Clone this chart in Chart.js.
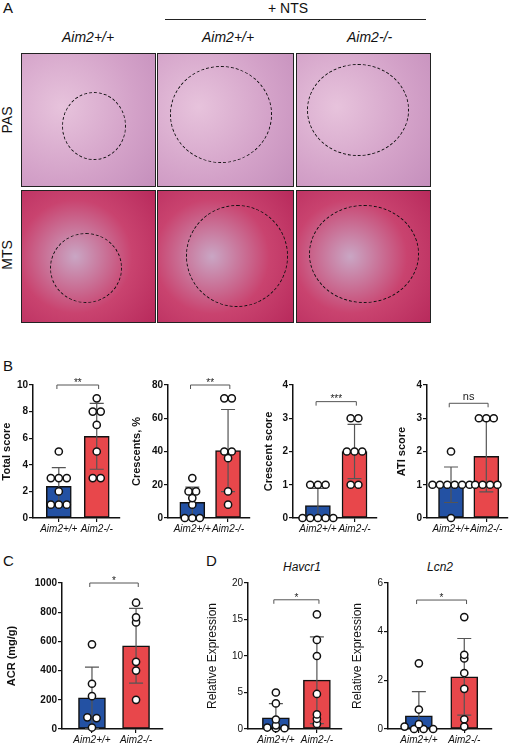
<!DOCTYPE html>
<html>
<head>
<meta charset="utf-8">
<script src="https://cdn.jsdelivr.net/npm/chart.js@4"></script>
<style>
  body { margin: 0; background: #fff; font-family: "Liberation Sans", Arial, sans-serif; }
  #page { position: relative; width: 520px; height: 749px; overflow: hidden; }
  .lbl { position: absolute; color: #111; white-space: nowrap; }
  .pic { position: absolute; border: 1.5px solid #222; box-sizing: border-box; overflow: hidden; }
  .pas { background: radial-gradient(circle at 30% 40%, #e7c3dc, #d3a1c8 60%, #c58fbc); }
  .mts { background: radial-gradient(circle at 40% 50%, #c9a6c4, #c9436f 55%, #b82a5c); }
  .glom { position: absolute; border: 1.5px dashed #111; border-radius: 50%; }
  .bar { position: absolute; height: 1px; background: #222; }
  canvas { position: absolute; }
</style>
</head>
<body>
<div id="page">
  <div class="lbl" style="left:3px;top:-1px;font-size:15px">A</div>
  <div class="lbl" style="left:268px;top:0px;font-size:14px">+ NTS</div>
  <div class="bar" style="left:165px;top:19px;width:261px"></div>
  <div class="lbl" style="left:62px;top:29px;font-size:14px;font-style:italic">Aim2+/+</div>
  <div class="lbl" style="left:202px;top:29px;font-size:14px;font-style:italic">Aim2+/+</div>
  <div class="lbl" style="left:347px;top:29px;font-size:14px;font-style:italic">Aim2-/-</div>
  <div class="lbl" style="left:-6px;top:112px;font-size:14px;transform:rotate(-90deg)">PAS</div>
  <div class="lbl" style="left:-8px;top:247px;font-size:14px;transform:rotate(-90deg)">MTS</div>

  <div class="pic pas" style="left:21px;top:53px;width:135px;height:134px"><div class="glom" style="left:40px;top:38px;width:62px;height:66px"></div></div>
  <div class="pic pas" style="left:157px;top:53px;width:137px;height:134px"><div class="glom" style="left:12px;top:12px;width:100px;height:95px"></div></div>
  <div class="pic pas" style="left:296px;top:53px;width:135px;height:134px"><div class="glom" style="left:10px;top:10px;width:100px;height:90px"></div></div>
  <div class="pic mts" style="left:21px;top:190px;width:135px;height:133px"><div class="glom" style="left:28px;top:42px;width:70px;height:68px"></div></div>
  <div class="pic mts" style="left:157px;top:190px;width:137px;height:133px"><div class="glom" style="left:28px;top:14px;width:100px;height:100px"></div></div>
  <div class="pic mts" style="left:296px;top:190px;width:135px;height:133px"><div class="glom" style="left:12px;top:14px;width:108px;height:96px"></div></div>

  <div class="lbl" style="left:3px;top:357px;font-size:15px">B</div>
  <div class="lbl" style="left:3px;top:552px;font-size:15px">C</div>
  <div class="lbl" style="left:206px;top:552px;font-size:15px">D</div>
  <div class="lbl" style="left:283px;top:560px;font-size:12px;font-style:italic">Havcr1</div>
  <div class="lbl" style="left:427px;top:560px;font-size:12px;font-style:italic">Lcn2</div>

  <canvas id="total"></canvas>
  <canvas id="crescents"></canvas>
  <canvas id="crescScore"></canvas>
  <canvas id="ati"></canvas>
  <canvas id="acr"></canvas>
  <canvas id="havcr1"></canvas>
  <canvas id="lcn2"></canvas>
</div>
<script>
const groups = ['Aim2+/+', 'Aim2-/-'];

// values read per animal
const totalWT = [5, 3, 3, 3, 2, 1, 1, 1];
const totalKO = [9, 8, 8, 7, 5, 3, 3];
const crescentsWT = [24, 16, 16, 12, 8, 0, 0, 0];
const crescentsKO = [72, 72, 40, 40, 36, 16, 8];
const crescScoreWT = [1, 1, 1, 0, 0, 0, 0, 0];
const crescScoreKO = [3, 3, 2, 2, 2, 1, 1];
const atiWT = [2, 1, 1, 1, 1, 1, 1, 0];
const atiKO = [3, 3, 3, 1, 1, 1, 1];
const acrWT = [580, 310, 225, 80, 75, 10];
const acrKO = [865, 765, 730, 460, 400, 200];
const havcr1WT = [5, 3.5, 1.3, 0.5, 0.2, 0.1, 0.1];
const havcr1KO = [15.7, 12.2, 10, 4.8, 2, 1.4, 0.7];
const lcn2WT = [2.7, 0.8, 0.2, 0.1, 0, 0, 0];
const lcn2KO = [4.6, 3.05, 2.9, 2.3, 1.65, 0.4, 0.1];

const panels = [
  { id: 'total', left: 0, top: 375, w: 125, h: 170, yw: 33, title: 'Total score', bold: true, max: 10, step: 2, sig: '**', sigY: 10, wt: totalWT, ko: totalKO },
  { id: 'crescents', left: 130, top: 375, w: 125, h: 170, yw: 38, title: 'Crescents, %', bold: true, max: 80, step: 20, sig: '**', sigY: 80, wt: crescentsWT, ko: crescentsKO },
  { id: 'crescScore', left: 262, top: 375, w: 120, h: 170, yw: 31, title: 'Crescent score', bold: true, max: 4, step: 1, sig: '***', sigY: 3.5, wt: crescScoreWT, ko: crescScoreKO },
  { id: 'ati', left: 395, top: 375, w: 118, h: 170, yw: 32, title: 'ATI score', bold: true, max: 4, step: 1, sig: 'ns', sigY: 3.45, wt: atiWT, ko: atiKO },
  { id: 'acr', left: 5, top: 573, w: 163, h: 176, yw: 57, title: 'ACR (mg/g)', bold: true, max: 1000, step: 200, sig: '*', sigY: 1000, wt: acrWT, ko: acrKO },
  { id: 'havcr1', left: 205, top: 573, w: 142, h: 176, yw: 43, title: 'Relative Expression', bold: false, max: 20, step: 5, sig: '*', sigY: 17.7, wt: havcr1WT, ko: havcr1KO },
  { id: 'lcn2', left: 350, top: 573, w: 147, h: 176, yw: 38, title: 'Relative Expression', bold: false, max: 6, step: 2, sig: '*', sigY: 5.3, wt: lcn2WT, ko: lcn2KO }
];

const mean = a => a.reduce((s, v) => s + v, 0) / a.length;
const sd = a => { const m = mean(a); return Math.sqrt(a.reduce((s, v) => s + (v - m) ** 2, 0) / (a.length - 1)); };

// spread overlapping dots sideways
function swarm(vals, xc, max) {
  const bins = {};
  vals.forEach(v => { const k = Math.round(v / max * 25); (bins[k] = bins[k] || []).push(v); });
  const pts = [];
  Object.values(bins).forEach(b => b.forEach((v, i) => pts.push({ x: xc + (i - (b.length - 1) / 2) * 0.21, y: v })));
  return pts;
}

const errorBars = {
  id: 'errorBars',
  afterDatasetDraw(chart, args) {
    if (args.index !== 0) return;
    const { ctx, scales: { x, y } } = chart;
    const p = chart.options.plugins.errorBars;
    ctx.save();
    ctx.strokeStyle = '#555';
    ctx.lineWidth = 1.2;
    [p.wt, p.ko].forEach((vals, i) => {
      const m = mean(vals), s = sd(vals);
      const px = x.getPixelForValue(i);
      const top = y.getPixelForValue(m + s);
      const bot = y.getPixelForValue(Math.max(0, m - s));
      ctx.beginPath();
      ctx.moveTo(px, top); ctx.lineTo(px, bot);
      ctx.moveTo(px - 7, top); ctx.lineTo(px + 7, top);
      if (m - s > 0) { ctx.moveTo(px - 7, bot); ctx.lineTo(px + 7, bot); }
      ctx.stroke();
    });
    ctx.restore();
  },
  afterDraw(chart) {
    const { ctx, scales: { x, y } } = chart;
    const p = chart.options.plugins.errorBars;
    const x0 = x.getPixelForValue(-0.05), x1 = x.getPixelForValue(1.05);
    const yy = y.getPixelForValue(p.sigY);
    ctx.save();
    ctx.strokeStyle = '#555';
    ctx.lineWidth = 1;
    ctx.beginPath();
    ctx.moveTo(x0, yy + 4); ctx.lineTo(x0, yy); ctx.lineTo(x1, yy); ctx.lineTo(x1, yy + 4);
    ctx.stroke();
    ctx.fillStyle = '#222';
    ctx.textAlign = 'center';
    ctx.textBaseline = 'bottom';
    ctx.font = p.sig === 'ns' ? '11px "Liberation Sans"' : '10px "Liberation Sans"';
    ctx.fillText(p.sig, (x0 + x1) / 2, yy - (p.sig === 'ns' ? 1 : -3));
    ctx.restore();
  }
};

panels.forEach(p => {
  const cv = document.getElementById(p.id);
  cv.style.left = p.left + 'px';
  cv.style.top = p.top + 'px';
  cv.style.width = p.w + 'px';
  cv.style.height = p.h + 'px';
  const tickFont = { family: 'Liberation Sans', size: 10, weight: p.bold ? 'bold' : 'normal' };
  new Chart(cv, {
    type: 'bar',
    data: {
      datasets: [
        {
          type: 'bar',
          data: [{ x: 0, y: mean(p.wt) }, { x: 1, y: mean(p.ko) }],
          backgroundColor: ['#2351a3', '#e8474b'],
          borderColor: '#111',
          borderWidth: 1.5,
          borderSkipped: false,
          barThickness: p.h === 170 ? 25 : 27,
          order: 2
        },
        {
          type: 'scatter',
          data: swarm(p.wt, 0, p.max).concat(swarm(p.ko, 1, p.max)),
          backgroundColor: '#fff',
          borderColor: '#111',
          borderWidth: 1.5,
          pointRadius: 3.6,
          clip: false,
          order: 1
        }
      ]
    },
    options: {
      responsive: false,
      animation: false,
      layout: { padding: { top: 10, right: 4 } },
      plugins: {
        legend: { display: false },
        tooltip: { enabled: false },
        errorBars: { wt: p.wt, ko: p.ko, sigY: p.sigY, sig: p.sig }
      },
      scales: {
        x: {
          type: 'linear', min: -0.68, max: 1.6, offset: false,
          afterBuildTicks: ax => { ax.ticks = [{ value: 0 }, { value: 1 }]; },
          afterFit: ax => { ax.height = p.h - 10 - (p.h === 170 ? 133 : 146); },
          border: { color: '#111', width: 1.5 },
          grid: { drawOnChartArea: false, offset: false, color: '#111', tickLength: 4, lineWidth: 1.2 },
          ticks: { color: '#111', padding: 1, maxRotation: 0, autoSkip: false, font: { family: 'Liberation Sans', size: 10, style: 'italic' }, callback: v => groups[v] }
        },
        y: {
          min: 0, max: p.max,
          afterFit: ax => { ax.width = p.yw; },
          border: { color: '#111', width: 1.5 },
          grid: { drawOnChartArea: false, color: '#111', tickLength: 4, lineWidth: 1.2 },
          ticks: { stepSize: p.step, color: '#111', padding: 1, font: tickFont, callback: v => String(v) },
          title: { display: true, text: p.title, color: '#111', padding: 0, font: { family: 'Liberation Sans', size: p.bold ? 11 : 12, weight: p.bold ? 'bold' : 'normal' } }
        }
      }
    },
    plugins: [errorBars]
  });
});
</script>
</body>
</html>
